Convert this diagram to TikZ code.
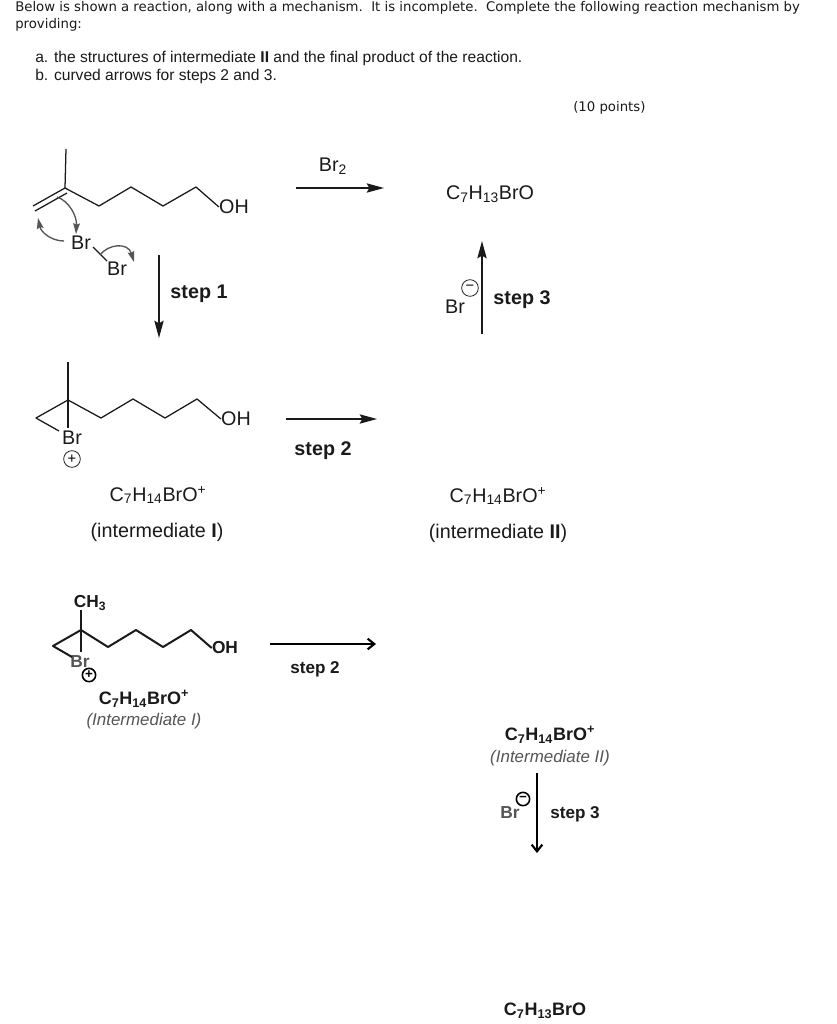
\documentclass[tikz,border=0pt]{standalone}
\usepackage{fontspec}
\setmainfont{Liberation Sans}
\newfontfamily\verd{DejaVu Sans}
\usetikzlibrary{arrows.meta}
\definecolor{ink}{HTML}{1A1A1A}
\definecolor{soft}{HTML}{555555}
\tikzset{
  px/.style={x=0.75pt,y=-0.75pt},
  bond/.style={draw=ink,line width=0.95pt,line join=round},
  hbond/.style={draw=ink,line width=1.5pt,line join=round},
  rxn/.style={draw=ink,line width=0.95pt,-{Stealth[length=13pt,width=7pt,inset=2pt]}},
  openrxn/.style={draw=black,line width=1.6pt,-{Straight Barb[length=5pt,width=8pt]}},
  curly/.style={draw=soft,line width=1pt,-{Stealth[length=8pt,width=5pt,inset=1pt]}},
  head/.style={inner sep=0pt,anchor=west,font=\verd\fontsize{9.95pt}{11pt}\selectfont,text=ink},
  task/.style={inner sep=0pt,anchor=west,font=\fontsize{11.7pt}{13pt}\selectfont,text=ink},
  atom/.style={inner sep=0pt,font=\fontsize{14.8pt}{16pt}\selectfont,text=ink},
  atomb/.style={inner sep=0pt,font=\bfseries\fontsize{13pt}{14pt}\selectfont,text=ink},
  lab/.style={inner sep=0pt,font=\fontsize{14.8pt}{17pt}\selectfont,text=ink},
  steplab/.style={inner sep=0pt,font=\bfseries\fontsize{14.8pt}{16pt}\selectfont,text=ink},
  steplabb/.style={inner sep=0pt,font=\bfseries\fontsize{12.8pt}{14pt}\selectfont,text=ink},
  forml/.style={inner sep=0pt,font=\bfseries\fontsize{13.5pt}{15pt}\selectfont,text=ink},
  itlab/.style={inner sep=0pt,font=\itshape\fontsize{12.7pt}{14pt}\selectfont,text=soft},
  chg/.style={circle,draw=ink,line width=0.6pt,minimum size=12.5pt,inner sep=0pt,font=\fontsize{11pt}{11pt}\selectfont},
  chgb/.style={circle,draw=black,line width=1.2pt,minimum size=10pt,inner sep=0pt,font=\bfseries\fontsize{10pt}{10pt}\selectfont}
}
\begin{document}
\begin{tikzpicture}[px]
\useasboundingbox (0,0) rectangle (836,1024);
\fill[white] (0,0) rectangle (836,1024);
% header
\node[head] (h1) at (15,8) {Below is shown a reaction, along with a mechanism.\ \ It is incomplete.\ \ Complete the following reaction mechanism by};
\node[head] (h2) at (15,25) {providing:};
\node[task] (t1) at (35,58) {a. the structures of intermediate \textbf{II} and the final product of the reaction.};
\node[task] (t2) at (35,76) {b. curved arrows for steps 2 and 3.};
\node[head] (pts) at (573,108) {(10 points)};
% molecule 1
\coordinate (a1) at (66,149);
\coordinate (a2) at (65,188);
\coordinate (a3) at (33,206);
\coordinate (a4) at (99,206);
\coordinate (a5) at (131,187);
\coordinate (a6) at (163,206);
\coordinate (a7) at (196,187);
\node[atom] (oh1) at (234,207) {OH};
\draw[bond] (a1) -- (a2) -- (a4) -- (a5) -- (a6) -- (a7) -- (oh1.west);
\draw[bond] (a2) -- (a3);
\coordinate (a2b) at (67,193);
\coordinate (a3b) at (35,211);
\draw[bond] (a2b) -- (a3b);
\node[atom] (br1) at (81,243) {Br};
\node[atom] (br2) at (117,269) {Br};
\coordinate (bb1) at (93,247);
\coordinate (bb2) at (107,261);
\draw[bond] (bb1) -- (bb2);
\coordinate (c1s) at (57,197);
\coordinate (c1e) at (76,234);
\coordinate (c2s) at (64,241);
\coordinate (c2e) at (38,218);
\coordinate (c3s) at (100,255);
\coordinate (c3e) at (134,262);
\draw[curly] (c1s) .. controls (69,201) and (77,216) .. (c1e);
\draw[curly] (c2s) .. controls (51,241) and (41,232) .. (c2e);
\draw[curly] (c3s) .. controls (108,244) and (128,242) .. (c3e);
% step 1
\coordinate (s1a) at (159,255);
\coordinate (s1b) at (159,338);
\draw[rxn] (s1a) -- (s1b);
\node[steplab] (s1) at (199,294) {step 1};
% top reaction
\coordinate (r1a) at (296,188);
\coordinate (r1b) at (384,188);
\draw[rxn] (r1a) -- (r1b);
\node[atom] (br2lab) at (333,166) {Br\textsubscript{2}};
\node[lab] (prod) at (490,194) {C\textsubscript{7}H\textsubscript{13}BrO};
% step 3 up
\coordinate (s3a) at (482,334);
\coordinate (s3b) at (482,241);
\draw[rxn] (s3a) -- (s3b);
\node[atom] (brm) at (455,307) {Br};
\node[chg] (brmc) at (470,288) {\raisebox{0.6pt}{−}};
\node[steplab] (s3) at (522,300) {step 3};
% molecule 2
\coordinate (b1) at (68,362);
\coordinate (b2) at (68,400);
\coordinate (b3) at (36,418);
\coordinate (b4) at (101,418);
\coordinate (b5) at (133,399);
\coordinate (b6) at (165,418);
\coordinate (b7) at (197,399);
\node[atom] (oh2) at (236,419) {OH};
\node[atom] (br3) at (72,438) {Br};
\coordinate (b8) at (59,431);
\coordinate (b9) at (68,428);
\draw[bond] (b1) -- (b9);
\draw[bond] (b8) -- (b3) -- (b2) -- (b4) -- (b5) -- (b6) -- (b7) -- (oh2.west);
\node[chg] (p1) at (72,459) {+};
\coordinate (r2a) at (286,419);
\coordinate (r2b) at (377,419);
\draw[rxn] (r2a) -- (r2b);
\node[steplab] (s2) at (323,451) {step 2};
\node[lab] (f1) at (158,495) {C\textsubscript{7}H\textsubscript{14}BrO\textsuperscript{+}};
\node[lab] (n1) at (157,532) {(intermediate \textbf{I})};
\node[lab] (f2) at (498,496) {C\textsubscript{7}H\textsubscript{14}BrO\textsuperscript{+}};
\node[lab] (n2) at (498,533) {(intermediate \textbf{II})};
% molecule 3
\node[atomb] (ch3) at (90,603) {CH\textsubscript{3}};
\coordinate (d1) at (81,610);
\coordinate (d2) at (81,630);
\coordinate (d3) at (53,646);
\coordinate (d4) at (108,647);
\coordinate (d5) at (136,630);
\coordinate (d6) at (163,647);
\coordinate (d7) at (191,630);
\node[atomb] (oh3) at (225,648) {OH};
\node[atomb,text=soft] (br4) at (80,662) {Br};
\coordinate (d8) at (72,657);
\coordinate (d9) at (81,652);
\draw[hbond] (d1) -- (d9);
\draw[hbond] (d8) -- (d3) -- (d2) -- (d4) -- (d5) -- (d6) -- (d7) -- (oh3.west);
\node[chgb] (p2) at (89,675) {+};
\coordinate (r3a) at (270,644);
\coordinate (r3b) at (376,644);
\draw[openrxn] (r3a) -- (r3b);
\node[steplabb] (s2b) at (315,669) {step 2};
\node[forml] (f3) at (144,699) {C\textsubscript{7}H\textsubscript{14}BrO\textsuperscript{+}};
\node[itlab] (n3) at (144,721) {(Intermediate I)};
\node[forml] (f4) at (550,735) {C\textsubscript{7}H\textsubscript{14}BrO\textsuperscript{+}};
\node[itlab] (n4) at (550,758) {(Intermediate II)};
% step 3 down
\coordinate (s4a) at (537,773);
\coordinate (s4b) at (537,853);
\draw[openrxn] (s4a) -- (s4b);
\node[atomb,text=soft] (brn) at (510,813) {Br};
\node[chgb] (brnc) at (523,799) {\raisebox{0.4pt}{−}};
\node[steplabb] (s3b) at (575,814) {step 3};
\node[forml] (f5) at (545,1011) {C\textsubscript{7}H\textsubscript{13}BrO};
\end{tikzpicture}
\end{document}
